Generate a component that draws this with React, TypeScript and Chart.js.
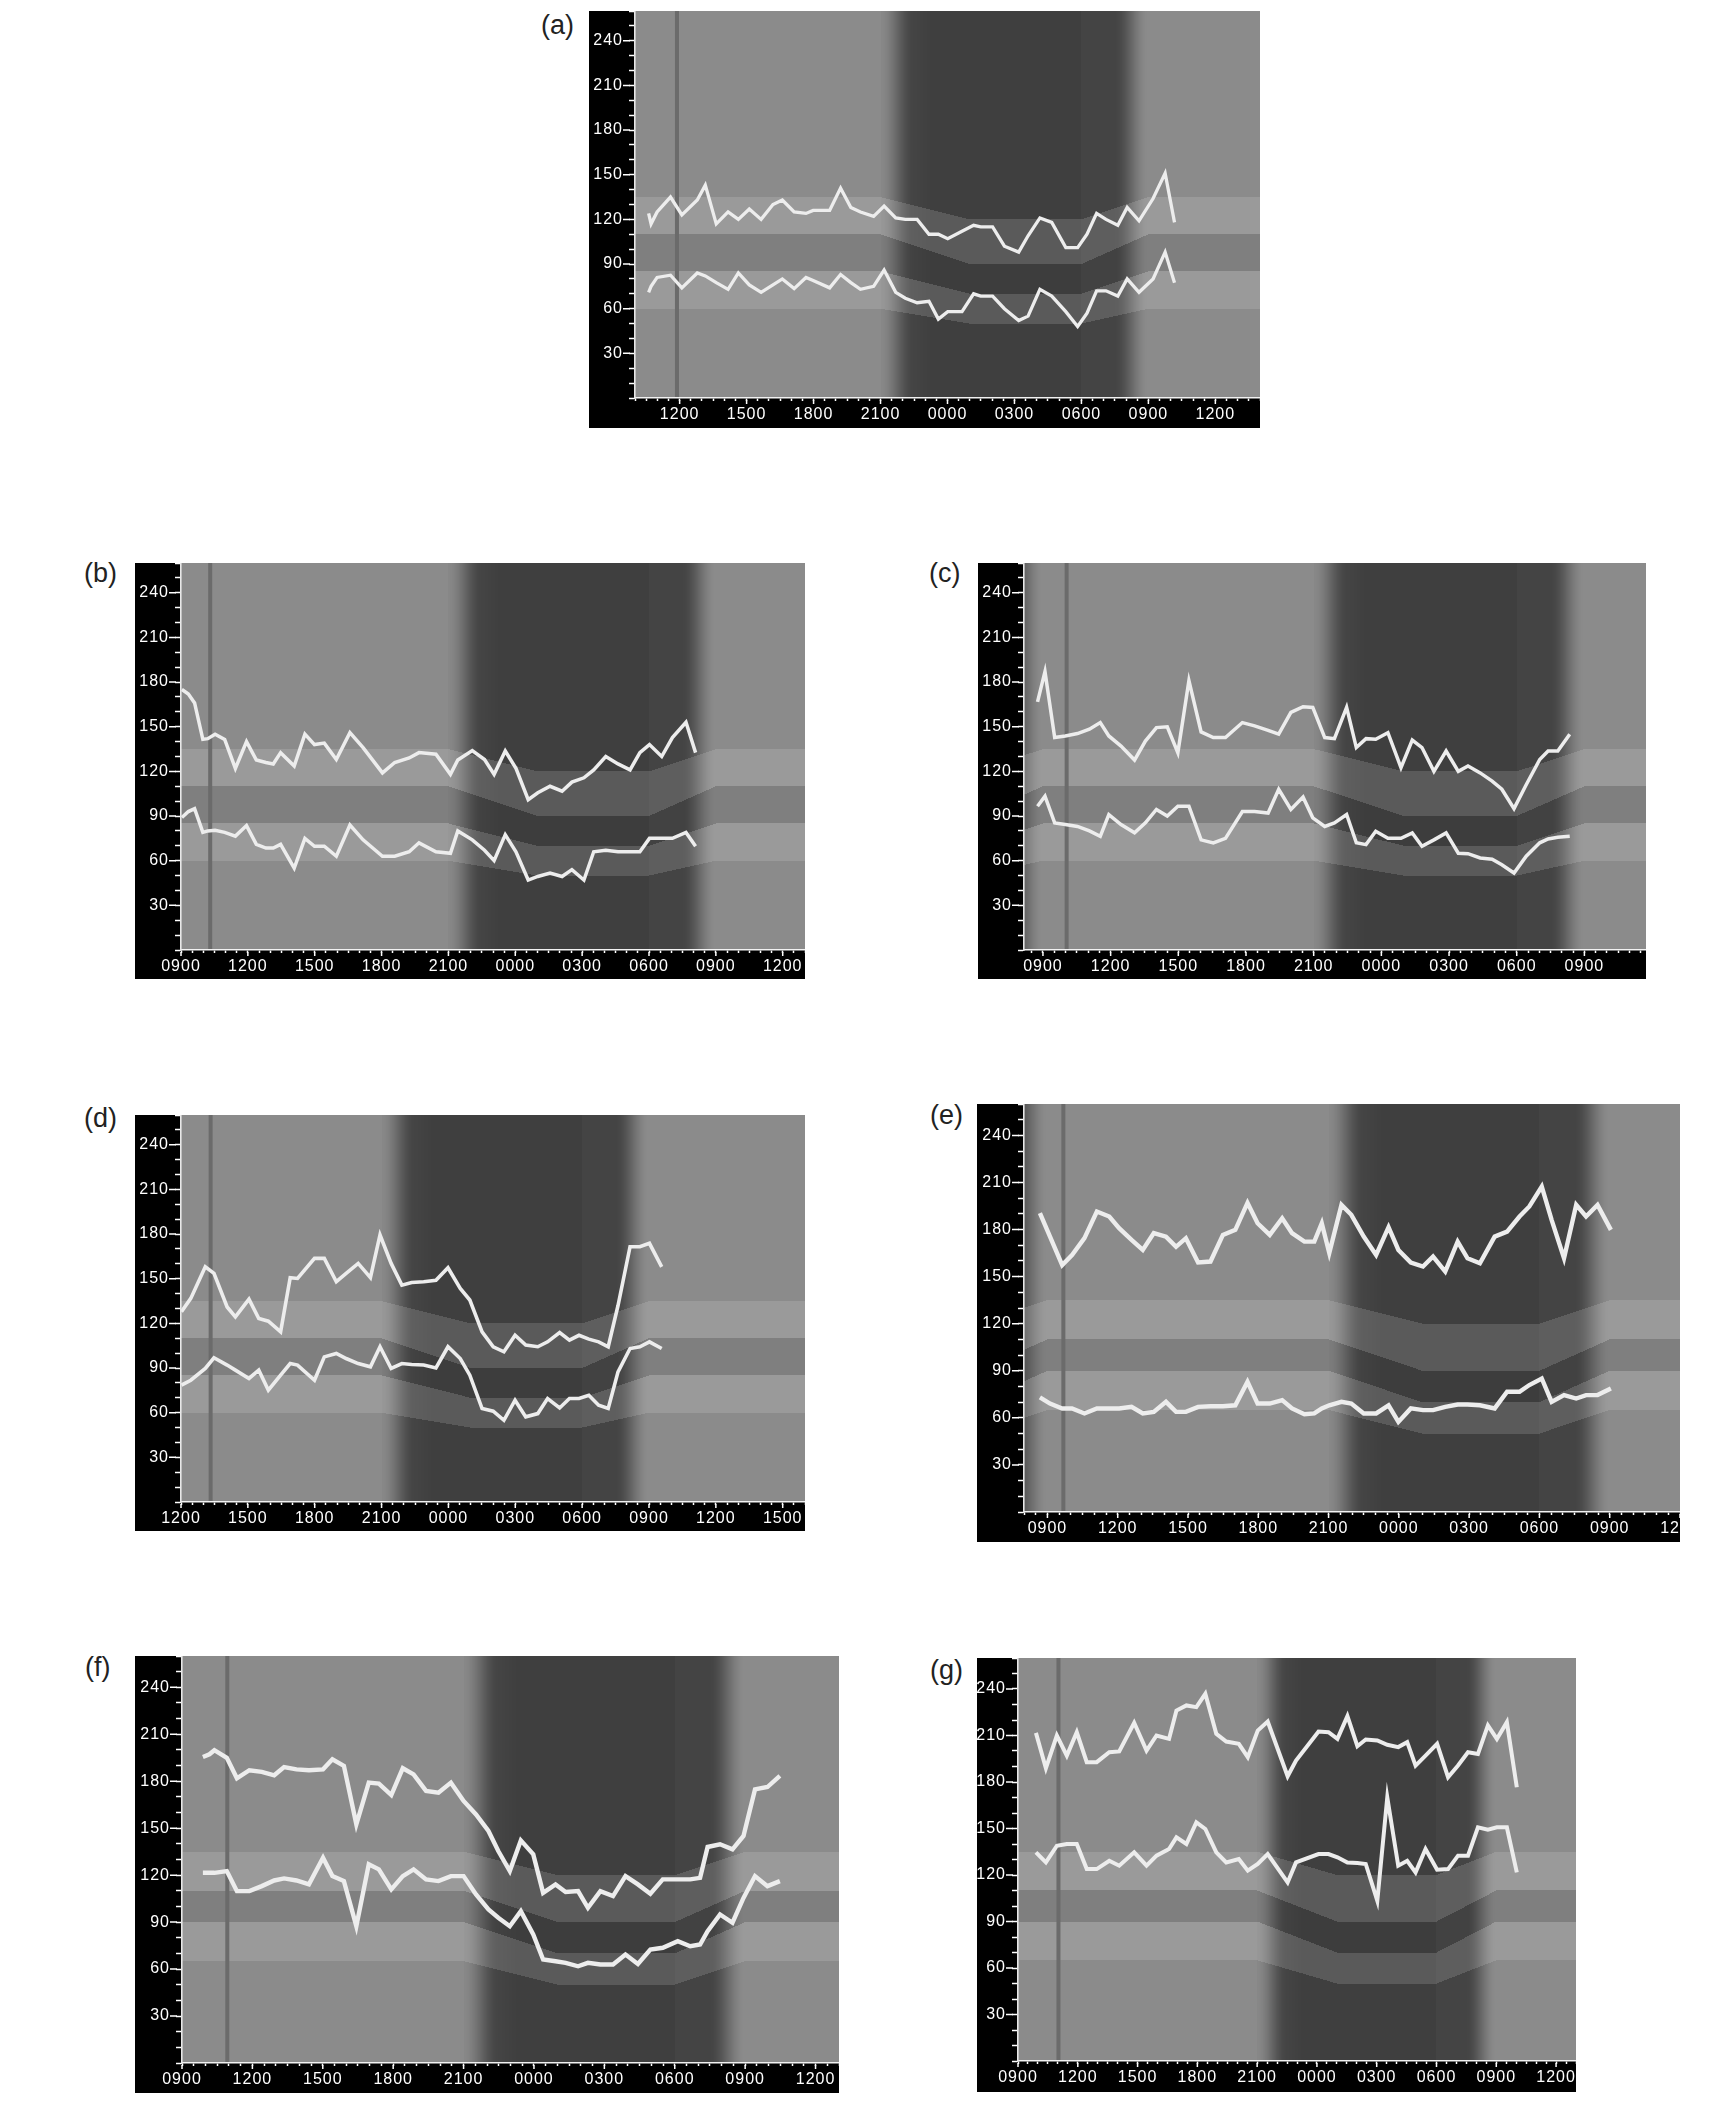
import React, { useEffect, useRef } from 'react';
import { Chart, registerables } from 'chart.js';

Chart.register(...registerables);

// ---------------- axis values ----------------
const Y_MIN = 0;
const Y_MAX = 260;
const yTickLabels = [30, 60, 90, 120, 150, 180, 210, 240];
const xLabelHours = [0, 3, 6, 9, 12, 15, 18, 21];

// ---------------- reference bands (mmHg) ----------------
const sysBandDay = [110, 135];
const sysBandNight = [90, 120];
const diaBandDayLow = [60, 85];
const diaBandDayHigh = [65, 90];
const diaBandNight = [50, 70];
const bandFall = [21, 25]; // 21:00 -> 01:00
const bandRise = [6, 9]; // 06:00 -> 09:00

// ---------------- panel (a) ----------------
const aTimes = [10.61, 10.72, 10.99, 11.59, 12.1, 12.79, 13.15, 13.64, 14.17, 14.63, 15.12, 15.65, 16.18, 16.6, 17.13, 17.66, 17.98, 18.72, 19.21, 19.67, 20.1, 20.69, 21.16, 21.68, 22.11, 22.64, 23.17, 23.59, 24.01, 24.65, 25.17, 25.49, 26.02, 26.55, 27.19, 27.61, 28.14, 28.67, 29.3, 29.83, 30.25, 30.68, 31.1, 31.63, 32.05, 32.58, 33.21, 33.75, 34.17];
const aSys = [124, 117, 125, 135, 123, 133, 143, 117, 125, 120, 127, 120, 130, 133, 125, 124, 126, 126, 141, 128, 125, 122, 129, 121, 120, 120, 110, 110, 107, 112, 116, 115, 115, 102, 98, 109, 121, 118, 101, 101, 110, 124, 120, 116, 128, 119, 134, 151, 118];
const aDia = [71, 75, 81, 82.5, 74, 84, 82, 77.5, 73, 84, 76, 71, 76, 80, 73.5, 81, 79, 74, 83, 77.5, 73, 75, 86, 71, 67, 64, 65, 53, 58, 58, 70, 68.5, 68.5, 60, 52, 55, 73, 68.5, 58, 48, 57, 72, 72, 68.5, 80, 71, 80, 98, 77.5];

// ---------------- panel (b) ----------------
const bTimes = [9.04, 9.33, 9.61, 9.98, 10.2, 10.53, 10.96, 11.44, 11.94, 12.38, 12.81, 13.14, 13.47, 14.08, 14.56, 14.99, 15.43, 15.97, 16.58, 17.17, 18.04, 18.59, 19.24, 19.68, 20.44, 21.09, 21.42, 22.07, 22.62, 23.05, 23.55, 24.03, 24.58, 25.01, 25.56, 26.1, 26.54, 27.08, 27.52, 28.06, 28.61, 29.15, 29.59, 30.02, 30.57, 31.05, 31.66, 32.09];
const bSys = [175, 172, 166, 141.5, 142, 145, 141.5, 122, 140, 127.6, 126, 125, 132.6, 123.6, 145, 138, 139, 128, 146, 136, 119, 126, 129, 132.6, 131.5, 118, 127.6, 134, 128, 118, 133.7, 122, 101, 105.6, 110, 106.7, 112.8, 115.7, 121, 130, 125, 121, 132.6, 138, 130, 142.7, 153, 132.6];
const bDia = [89, 93, 95, 79, 80, 80.5, 79, 76.5, 83.6, 71, 68.5, 68.5, 71, 55, 75, 69.7, 69.7, 63, 84, 74, 63, 63, 66, 72, 66, 65, 80, 74, 67, 60, 77.5, 66, 47, 49.4, 51.7, 49.4, 54, 47, 66, 67, 66, 66, 66, 75, 75, 75, 79, 69.7];

// ---------------- panel (c) ----------------
const cTimes = [8.76, 9.09, 9.52, 9.99, 10.53, 11.06, 11.54, 11.92, 12.46, 13.06, 13.54, 14.03, 14.51, 14.98, 15.47, 16.01, 16.55, 17.09, 17.84, 18.38, 18.98, 19.45, 19.99, 20.53, 20.96, 21.49, 21.92, 22.46, 22.89, 23.32, 23.75, 24.29, 24.87, 25.37, 25.8, 26.33, 26.87, 27.41, 27.84, 28.38, 28.91, 29.34, 29.88, 30.42, 31.02, 31.39, 31.82, 32.35];
const cSys = [166.7, 187, 142.7, 143.8, 145.4, 148.3, 152.8, 143.8, 137, 127.6, 140.4, 149.4, 150, 132.6, 181, 146.5, 142.7, 142.7, 152.8, 150.6, 147.6, 145, 159.6, 163.4, 163, 142.7, 142, 163, 136, 142, 141.6, 146, 122.5, 141, 136, 120, 133.7, 120, 123.6, 119, 113.5, 108, 95, 111, 128, 133.7, 133.7, 145];
const cDia = [96.6, 103.4, 85.4, 84.3, 83, 80, 76.4, 91, 84.3, 78.7, 85.4, 94.4, 90, 96.6, 96.6, 74, 72, 75, 93, 93, 92, 108, 94.4, 102.7, 88.8, 83, 85.4, 91, 72, 70.8, 79.8, 75, 75, 78.7, 69.7, 74, 78.7, 65, 64.7, 61.8, 61, 57.3, 51.7, 63, 72, 74.6, 75.7, 76.4];

// ---------------- panel (d) ----------------
const dTimes = [12.02, 12.44, 13.09, 13.48, 14.07, 14.44, 15.05, 15.49, 15.92, 16.47, 16.9, 17.23, 17.99, 18.43, 18.97, 19.41, 19.95, 20.5, 20.93, 21.43, 21.91, 22.35, 22.89, 23.44, 23.98, 24.53, 24.96, 25.51, 26.01, 26.49, 26.99, 27.47, 28.01, 28.45, 28.99, 29.43, 29.86, 30.3, 30.74, 31.17, 31.61, 32.15, 32.59, 33.02, 33.57];
const dSys = [127.8, 136.8, 158, 153.6, 131, 124.4, 136.3, 123.3, 121.5, 114.3, 150.7, 150.2, 163.7, 163.7, 148, 153.6, 160.3, 150.7, 179.4, 160.3, 145.7, 147.5, 148, 149, 157.4, 143.5, 135.7, 114.3, 104.3, 100.9, 112, 105.4, 104.3, 107.6, 113.9, 108.7, 112, 109.4, 107.6, 104.3, 132, 171.5, 171.5, 173.8, 158];
const dDia = [78.5, 81.8, 89.7, 96.9, 92, 88.6, 83, 88.6, 75.1, 85.2, 93, 92, 81.8, 97.5, 99.8, 96.4, 93, 90.8, 104.3, 89.7, 93, 92.4, 92, 90.1, 104.3, 96.4, 85.2, 62.8, 61, 54.9, 68.4, 57.2, 59.4, 69.5, 63.2, 69.5, 69.5, 71.7, 65, 62.8, 87.4, 103.1, 104.3, 107.6, 103.1];

// ---------------- panel (e) ----------------
const eTimes = [8.68, 9.11, 9.63, 10.05, 10.58, 11.11, 11.64, 12.06, 12.59, 13.07, 13.54, 14.06, 14.49, 14.91, 15.43, 15.96, 16.49, 17.02, 17.54, 17.97, 18.49, 19.02, 19.44, 19.97, 20.39, 20.71, 21.03, 21.55, 21.97, 22.5, 23.03, 23.56, 23.98, 24.51, 25.03, 25.46, 25.98, 26.51, 26.93, 27.46, 28.09, 28.62, 29.15, 29.57, 30.1, 30.52, 31.05, 31.57, 31.99, 32.48, 33.05];
const eSys = [190.4, 175.5, 157.4, 163.8, 174.5, 191.5, 188.3, 180.9, 173.4, 167, 177.7, 175.5, 169, 174.5, 159, 159.6, 176.6, 179.8, 197, 184, 176.6, 187.2, 177.7, 172.3, 172.3, 184, 165, 195.7, 189.4, 175.5, 163.8, 181.5, 167, 159, 156.4, 162.8, 153.2, 172.3, 161.7, 158.5, 175.5, 178.7, 188.3, 194.7, 207.4, 186.2, 161.7, 195.7, 188.3, 195.7, 179.8];
const eDia = [73, 69.1, 66, 66, 62.8, 66, 66, 66, 67, 62.8, 63.8, 70.2, 63.8, 63.8, 67, 67.4, 67.4, 68, 83, 69.1, 69.1, 71.3, 66, 62.3, 62.8, 66, 68, 70.2, 69.1, 62.8, 62.8, 68, 57.4, 66, 64.9, 64.9, 67, 68.5, 68.5, 68, 66, 76.6, 76.6, 80.9, 85.1, 70.2, 74.5, 72.3, 74.5, 74.5, 78.7];

// ---------------- panel (f) ----------------
const fTimes = [9.89, 10.17, 10.38, 10.91, 11.34, 11.87, 12.4, 12.93, 13.35, 13.88, 14.41, 15.01, 15.41, 15.9, 16.43, 16.96, 17.39, 17.92, 18.41, 18.87, 19.4, 19.93, 20.46, 21.0, 21.53, 22.06, 22.48, 22.97, 23.44, 23.97, 24.39, 24.92, 25.35, 25.88, 26.3, 26.83, 27.37, 27.9, 28.43, 28.96, 29.49, 30.13, 30.66, 31.08, 31.4, 31.93, 32.46, 32.93, 33.42, 33.95, 34.48];
const fSys = [195.5, 197.2, 199.8, 195, 181.9, 187, 186, 183.8, 189.1, 187.6, 187, 187.6, 194, 189.8, 152.5, 179.1, 178.5, 171.2, 188.3, 184.4, 173.8, 172.7, 179.1, 167.4, 158.8, 148.2, 135.4, 122.6, 142.2, 133.3, 108.7, 114.1, 109.2, 109.8, 99.1, 109.8, 106.6, 119.4, 114.1, 108.1, 117.3, 117.3, 117.3, 118.3, 138, 139.7, 136.5, 145, 174.8, 176.3, 183.4];
const fDia = [121.5, 121.5, 121.5, 122.6, 109.8, 109.8, 113, 116.6, 117.9, 116.6, 114.1, 131.1, 119.4, 116.2, 87.4, 126.9, 123.7, 110.9, 119.4, 123.7, 117.3, 116.2, 119.4, 119.4, 107.7, 98.1, 92.8, 87.4, 97, 82.1, 66.1, 65, 64, 61.8, 64, 62.9, 62.9, 69.3, 63.3, 72.5, 73.6, 77.8, 74.6, 75.7, 84.2, 94.9, 89.6, 105.5, 119.4, 113, 116.2];

// ---------------- panel (g) ----------------
const gTimes = [9.9, 10.4, 10.95, 11.45, 11.95, 12.45, 12.95, 13.58, 14.08, 14.83, 15.45, 15.95, 16.58, 16.95, 17.45, 17.95, 18.4, 18.95, 19.45, 20.08, 20.53, 21.03, 21.53, 22.53, 22.95, 24.08, 24.58, 25.03, 25.53, 26.03, 26.45, 27.03, 27.53, 28.08, 28.53, 28.95, 29.45, 30.03, 30.58, 31.08, 31.58, 32.08, 32.58, 33.03, 33.53, 34.03];
const gSys = [211.7, 188.9, 210, 197, 212.1, 192.8, 192.8, 199.2, 199.7, 218.2, 200.3, 210, 207.8, 226.1, 229.4, 228.3, 236.9, 211.1, 206.1, 204.6, 196, 213.2, 219, 183.7, 193.8, 212.6, 212.1, 207.8, 222.5, 203.1, 207.4, 206.8, 204, 202.5, 205.7, 190.6, 197, 204.6, 183.1, 190.6, 199.2, 198.1, 216.5, 207.8, 218.6, 176.6];
const gDia = [134.6, 128.1, 138.9, 140, 140, 123.8, 123.8, 129.2, 126, 134.6, 126, 132.5, 136.8, 144.3, 140, 154, 149.7, 134.6, 128.1, 130.3, 122.8, 127.1, 133.5, 115.2, 128.1, 133.5, 133.5, 131.4, 128.1, 127.7, 127.1, 103.4, 170.1, 126, 129.2, 121.7, 136.8, 123.4, 123.8, 132.5, 132.5, 150.8, 149.3, 150.8, 150.8, 121.7];

// ---------------- panel definitions ----------------
type PanelDef = {
  id: string;
  times: number[];
  sys: number[];
  dia: number[];
  start: number;
  end: number;
  marker: number;
  diaDay: number[];
};

const panelDefs: PanelDef[] = [
  { id: 'a', times: aTimes, sys: aSys, dia: aDia, start: 10, end: 38, marker: 11.88, diaDay: diaBandDayLow },
  { id: 'b', times: bTimes, sys: bSys, dia: bDia, start: 9, end: 37, marker: 10.31, diaDay: diaBandDayLow },
  { id: 'c', times: cTimes, sys: cSys, dia: cDia, start: 8.16, end: 35.73, marker: 10.05, diaDay: diaBandDayLow },
  { id: 'd', times: dTimes, sys: dSys, dia: dDia, start: 12, end: 40, marker: 13.33, diaDay: diaBandDayLow },
  { id: 'e', times: eTimes, sys: eSys, dia: eDia, start: 8, end: 36, marker: 9.68, diaDay: diaBandDayHigh },
  { id: 'f', times: fTimes, sys: fSys, dia: fDia, start: 9, end: 37, marker: 10.93, diaDay: diaBandDayHigh },
  { id: 'g', times: gTimes, sys: gSys, dia: gDia, start: 9, end: 37, marker: 11.03, diaDay: diaBandDayHigh },
];

// layout (pixels) kept apart from the data
const panelLayout: Record<string, any> = {
  a: { left: 589, top: 11, w: 671, h: 417, stripW: 46, stripH: 30, lx: 541, ly: 15, lw: 3.3 },
  b: { left: 135, top: 563, w: 670, h: 416, stripW: 46, stripH: 29, lx: 84, ly: 563, lw: 3.5 },
  c: { left: 978, top: 563, w: 668, h: 416, stripW: 46, stripH: 29, lx: 929, ly: 563, lw: 3.5 },
  d: { left: 135, top: 1115, w: 670, h: 416, stripW: 46, stripH: 29, lx: 84, ly: 1108, lw: 3.6 },
  e: { left: 977, top: 1104, w: 703, h: 438, stripW: 47, stripH: 30, lx: 930, ly: 1105, lw: 4.4 },
  f: { left: 135, top: 1656, w: 704, h: 437, stripW: 47, stripH: 30, lx: 85, ly: 1657, lw: 4.4 },
  g: { left: 977, top: 1658, w: 599, h: 434, stripW: 41, stripH: 31, lx: 930, ly: 1660, lw: 4 },
};

// ---------------- helpers ----------------
const clockOf = (h: number) => ((h % 24) + 24) % 24;
const smooth = (t: number) => {
  const u = Math.max(0, Math.min(1, t));
  return u * u * (3 - 2 * u);
};

function bandLevel(h: number, day: number, night: number) {
  const c = clockOf(h);
  const fallLen = bandFall[1] - bandFall[0];
  if (c >= bandRise[1] && c <= bandFall[0]) return day;
  if (c > bandFall[0]) return day + (night - day) * ((c - bandFall[0]) / fallLen);
  if (c < bandFall[1] - 24) return day + (night - day) * ((c + 24 - bandFall[0]) / fallLen);
  if (c < bandRise[0]) return night;
  return night + (day - night) * ((c - bandRise[0]) / (bandRise[1] - bandRise[0]));
}

// darkness of the night shading, 0 = day, 1 = deep night
function nightness(h: number) {
  const c = clockOf(h);
  if (c >= 9 && c < 21) return 0;
  if (c >= 21 && c < 22.5) return 0.05 + 0.88 * smooth((c - 21) / 1.5);
  if (c >= 22.5) return 0.93 + 0.07 * Math.min(1, (c - 22.5) / 0.8);
  if (c < 6) return 1;
  if (c < 7.5) return 0.93;
  return 0.93 * (1 - smooth((c - 7.5) / 1.5));
}

const lerp = (a: number, b: number, t: number) => a + (b - a) * t;
const grey = (v: number) => {
  const g = Math.round(v);
  return `rgb(${g},${g},${g})`;
};

const hourLabel = (v: number) => {
  const c = Math.round(clockOf(v));
  return String(c * 100).padStart(4, '0');
};
const isLabelHour = (v: number) => Math.abs(v - Math.round(v)) < 1e-6 && xLabelHours.includes(Math.round(clockOf(v)) % 24);

function makePlugin(def: PanelDef) {
  return {
    id: 'abpmShade',
    beforeDraw(chart: any) {
      const ctx = chart.ctx;
      ctx.save();
      ctx.fillStyle = '#000';
      ctx.fillRect(0, 0, chart.width, chart.height);
      ctx.restore();
      try {
        ctx.letterSpacing = '1px';
      } catch (e) {
        /* ignore */
      }
    },
    beforeDatasetsDraw(chart: any) {
      const ctx = chart.ctx;
      const area = chart.chartArea;
      const xs = chart.scales.x;
      const ys = chart.scales.y;
      ctx.save();
      const x0 = Math.round(area.left);
      const x1 = Math.round(area.right);
      const top = Math.round(area.top);
      const bottom = Math.round(area.bottom);
      for (let px = x0; px < x1; px++) {
        const h = xs.getValueForPixel(px + 0.5);
        const n = nightness(h);
        const bg = grey(lerp(139, 63, n));
        const band = grey(lerp(154, 90, n));
        const mid = grey(lerp(127, 61, n));
        const uTop = Math.round(ys.getPixelForValue(bandLevel(h, sysBandDay[1], sysBandNight[1])));
        const uBot = Math.round(ys.getPixelForValue(bandLevel(h, sysBandDay[0], sysBandNight[0])));
        const lTop = Math.round(ys.getPixelForValue(bandLevel(h, def.diaDay[1], diaBandNight[1])));
        const lBot = Math.round(ys.getPixelForValue(bandLevel(h, def.diaDay[0], diaBandNight[0])));
        const segs: [number, number, string][] = [
          [top, uTop, bg],
          [uTop, uBot, band],
          [uBot, lTop, mid],
          [lTop, lBot, band],
          [lBot, bottom, bg],
        ];
        for (const [ya, yb, col] of segs) {
          if (yb > ya) {
            ctx.fillStyle = col;
            ctx.fillRect(px, ya, 1, yb - ya);
          }
        }
      }
      ctx.restore();
    },
    afterDraw(chart: any) {
      const ctx = chart.ctx;
      const area = chart.chartArea;
      const xs = chart.scales.x;
      const ys = chart.scales.y;
      ctx.save();
      ctx.strokeStyle = '#ffffff';
      ctx.lineWidth = 1.5;
      ctx.beginPath();
      for (const v of yTickLabels) {
        const y = ys.getPixelForValue(v);
        ctx.moveTo(area.left - 12, y);
        ctx.lineTo(area.left - 5, y);
      }
      for (let v = Math.ceil(xs.min); v <= xs.max + 1e-9; v += 1) {
        if (!isLabelHour(v)) continue;
        const x = xs.getPixelForValue(v);
        ctx.moveTo(x, area.bottom + 2);
        ctx.lineTo(x, area.bottom + 6);
      }
      ctx.stroke();
      ctx.restore();
    },
  };
}

function buildConfig(def: PanelDef) {
  const lay = panelLayout[def.id];
  const tickFont = { family: '"Liberation Sans", Arial, Helvetica, sans-serif', size: 16 };
  const lineStyle = {
    borderColor: '#ededed',
    borderWidth: lay.lw,
    pointRadius: 0,
    tension: 0,
    borderJoinStyle: 'miter',
    borderCapStyle: 'butt',
    fill: false,
  };
  return {
    type: 'line',
    data: {
      datasets: [
        { label: 'Systolic', data: def.times.map((t, i) => ({ x: t, y: def.sys[i] })), order: 0, ...lineStyle },
        { label: 'Diastolic', data: def.times.map((t, i) => ({ x: t, y: def.dia[i] })), order: 1, ...lineStyle },
        {
          label: 'Marker',
          data: [
            { x: def.marker, y: Y_MIN },
            { x: def.marker, y: Y_MAX },
          ],
          borderColor: '#6b6b6b',
          borderWidth: 4,
          pointRadius: 0,
          fill: false,
          order: 5,
        },
      ],
    },
    options: {
      animation: false,
      responsive: false,
      maintainAspectRatio: false,
      devicePixelRatio: 1,
      events: [],
      layout: { padding: 0 },
      plugins: { legend: { display: false }, tooltip: { enabled: false }, title: { display: false } },
      scales: {
        x: {
          type: 'linear',
          position: 'bottom',
          bounds: 'data',
          min: def.start,
          max: def.end,
          afterBuildTicks: (scale: any) => {
            const ticks = [];
            for (let v = Math.ceil(def.start * 2) / 2; v <= def.end + 1e-9; v += 0.5) ticks.push({ value: v });
            scale.ticks = ticks;
          },
          afterFit: (scale: any) => {
            scale.height = lay.stripH;
            scale.paddingLeft = 0;
            scale.paddingRight = 0;
            scale.paddingTop = 0;
            scale.paddingBottom = 0;
          },
          ticks: {
            autoSkip: false,
            includeBounds: false,
            maxRotation: 0,
            minRotation: 0,
            color: '#ffffff',
            font: tickFont,
            padding: 4,
            callback: (v: number) => (isLabelHour(v) ? hourLabel(v) : ''),
          },
          grid: { display: true, drawOnChartArea: false, drawTicks: true, tickLength: 3, tickColor: '#ffffff', tickWidth: 1.5 },
          border: { display: true, color: '#f2f2f2', width: 1.6, z: 1 },
        },
        y: {
          type: 'linear',
          position: 'left',
          bounds: 'data',
          min: Y_MIN,
          max: Y_MAX,
          afterBuildTicks: (scale: any) => {
            const ticks = [];
            for (let v = Y_MIN; v <= Y_MAX; v += 10) ticks.push({ value: v });
            scale.ticks = ticks;
          },
          afterFit: (scale: any) => {
            scale.width = lay.stripW;
            scale.paddingTop = 0;
            scale.paddingBottom = 0;
            scale.paddingLeft = 0;
            scale.paddingRight = 0;
          },
          ticks: {
            autoSkip: false,
            includeBounds: false,
            color: '#ffffff',
            font: tickFont,
            padding: 6,
            callback: (v: number) => (yTickLabels.includes(v) ? String(v) : ''),
          },
          grid: { display: true, drawOnChartArea: false, drawTicks: true, tickLength: 6, tickColor: '#ffffff', tickWidth: 1.5 },
          border: { display: true, color: '#e8e8e8', width: 1.6, z: 1 },
        },
      },
    },
    plugins: [makePlugin(def)],
  };
}

function Panel({ def }: { def: PanelDef }) {
  const ref = useRef<HTMLCanvasElement | null>(null);
  const lay = panelLayout[def.id];
  useEffect(() => {
    const canvas = ref.current;
    if (!canvas) return;
    const chart = new Chart(canvas, buildConfig(def) as any);
    return () => chart.destroy();
  }, [def]);
  return (
    <>
      <div
        style={{
          position: 'absolute',
          left: lay.lx,
          top: lay.ly - 3,
          font: '27px "Liberation Sans", Arial, sans-serif',
          lineHeight: '27px',
          color: '#222',
          whiteSpace: 'nowrap',
        }}
      >
        ({def.id})
      </div>
      <canvas
        ref={ref}
        width={lay.w}
        height={lay.h}
        style={{ position: 'absolute', left: lay.left, top: lay.top, width: lay.w, height: lay.h, display: 'block' }}
      />
    </>
  );
}

export default function App() {
  return (
    <div
      style={{
        position: 'absolute',
        left: 0,
        top: 0,
        width: 1719,
        height: 2126,
        background: '#ffffff',
        overflow: 'hidden',
      }}
    >
      {panelDefs.map((d) => (
        <Panel key={d.id} def={d} />
      ))}
    </div>
  );
}
